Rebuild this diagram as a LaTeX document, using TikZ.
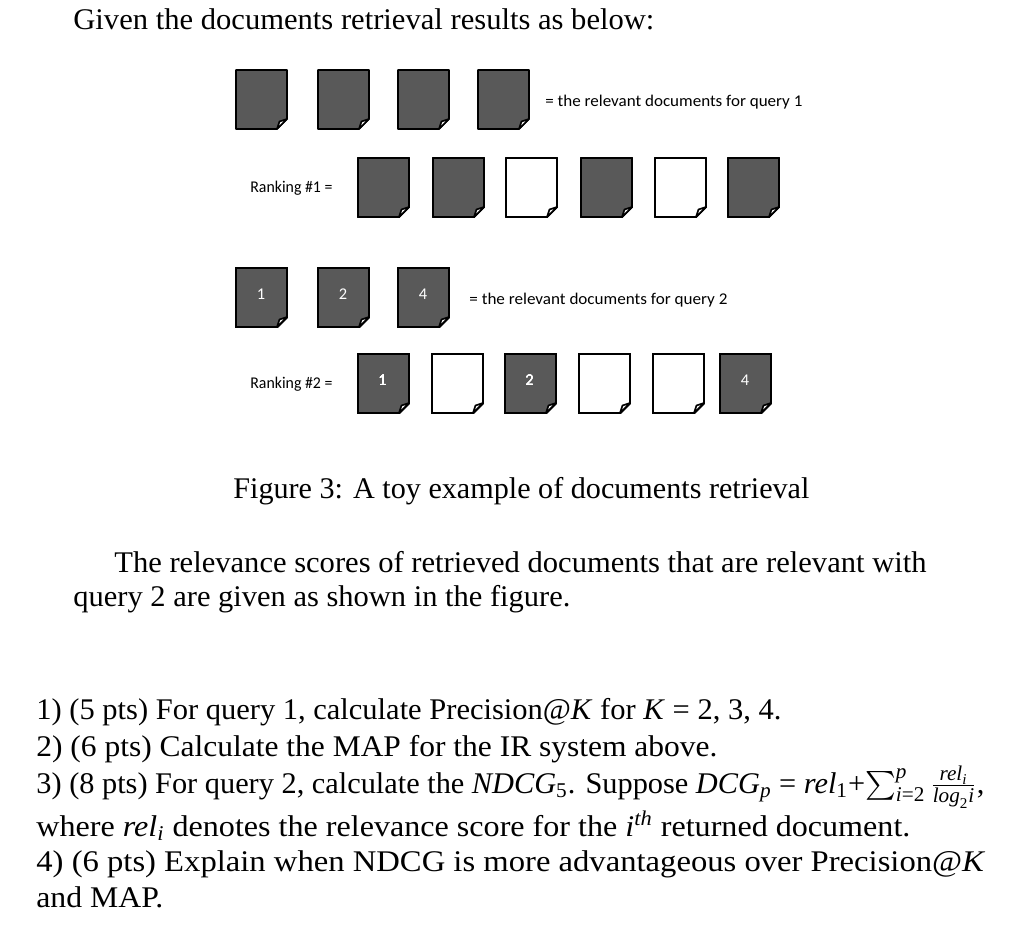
\documentclass[tikz,border=0pt]{standalone}
\usepackage{amsmath}
\usepackage{graphicx}
\usepackage{fontspec}
\setmainfont{Liberation Serif}
\newfontfamily\labelfont{Carlito}
\definecolor{docgray}{HTML}{595959}
\newcommand{\iv}[1]{\text{\itshape #1}}
\newcommand{\nv}[1]{\text{#1}}
\newcommand{\fitw}[2]{\resizebox{#1pt}{\height}{#2}}
\begin{document}
\begin{tikzpicture}[x=0.5pt,y=-0.5pt]
      \tikzset{bodyline/.style={anchor=base west,inner sep=0pt,font=\fontsize{15}{16}\selectfont},
        doclabel/.style={anchor=base west,inner sep=0pt,font=\labelfont\fontsize{8.2}{9}\selectfont},
        docnum/.style={inner sep=0pt,text=white,font=\labelfont\fontsize{8.2}{9}\selectfont},
        docline/.style={line width=0.8pt,line join=round}}
      \useasboundingbox (0,0) rectangle (1018,936);
      \newcommand{\docpage}[3]{
        \begin{scope}[shift={(#1,#2)}]
          \filldraw[docline,fill=#3] (0,0)--(51,0)--(51,49)--(41,59)--(0,59)--cycle;
          \filldraw[docline,fill=white] (41,59)--(43.5,51.5)--(51,49)--cycle;
        \end{scope}}

      % gray pages, query 1
      \foreach \x in {236,318,398,478}
        \docpage{\x}{70}{docgray}
      % ranking 1
      \foreach \x/\c in {358/docgray,433/docgray,506/white,581/docgray,655/white,728/docgray}
        \docpage{\x}{158}{\c}
      % gray pages, query 2
      \foreach \x/\n in {236/1,318/2,398/4}
       { \docpage{\x}{268}{docgray}
        \node[docnum] (qnum\n) at (\x+25,294) {\n}; }
      % ranking 2
      \foreach \x/\c in {358/docgray,432/white,505/docgray,579/white,653/white,720/docgray}
        \docpage{\x}{354}{\c}
      \foreach \x/\n in {382.6/1,529.6/2,745/4}
        \node[docnum] (rnum\n) at (\x,380.6) {\n};

      \node[doclabel] (relone) at (545,107) {\fitw{128.5}{= the relevant documents for query 1}};
      \node[doclabel] (rankone) at (250,193) {\fitw{41}{Ranking \#1 =}};
      \node[doclabel] (reltwo) at (469,305) {\fitw{129}{= the relevant documents for query 2}};
      \node[doclabel] (ranktwo) at (250,388) {\fitw{41}{Ranking \#2 =}};

      \node[bodyline] (given) at (73,30) {\fitw{290.5}{Given the documents retrieval results as below:}};
      \node[bodyline] (caption) at (233,498) {\fitw{288}{Figure 3: A toy example of documents retrieval}};
      \node[bodyline] (scoresa) at (114,572) {\fitw{406}{The relevance scores of retrieved documents that are relevant with}};
      \node[bodyline] (scoresb) at (73,606) {\fitw{248.5}{query 2 are given as shown in the figure.}};
      \node[bodyline] (taska) at (36,719) {\fitw{372.5}{1) (5 pts) For query 1, calculate Precision@\textit{K} for \textit{K} = 2, 3, 4.}};
      \node[bodyline] (taskb) at (36,756) {\fitw{340.5}{2) (6 pts) Calculate the MAP for the IR system above.}};
      \node[bodyline] (taskc) at (36,793) {\fitw{474}{3) (8 pts) For query 2, calculate the \textit{NDCG}$_{\nv{5}}$. Suppose $\iv{DCG}_{\iv{p}}$ = $\iv{rel}_{\nv{1}}$+$\sum_{\iv{i}\nv{=2}}^{\iv{p}}\frac{\iv{rel}_{\iv{i}}}{\iv{log}_{\nv{2}}\iv{i}}$,}};
      \node[bodyline] (taskd) at (36,836) {\fitw{437}{where \textit{rel}$_{\iv{i}}$ denotes the relevance score for the \textit{i}$^{\iv{th}}$ returned document.}};
      \node[bodyline] (taske) at (36,871) {\fitw{474.5}{4) (6 pts) Explain when NDCG is more advantageous over Precision@\textit{K}}};
      \node[bodyline] (taskf) at (36,907) {\fitw{63.5}{and MAP.}};
\end{tikzpicture}
\end{document}
